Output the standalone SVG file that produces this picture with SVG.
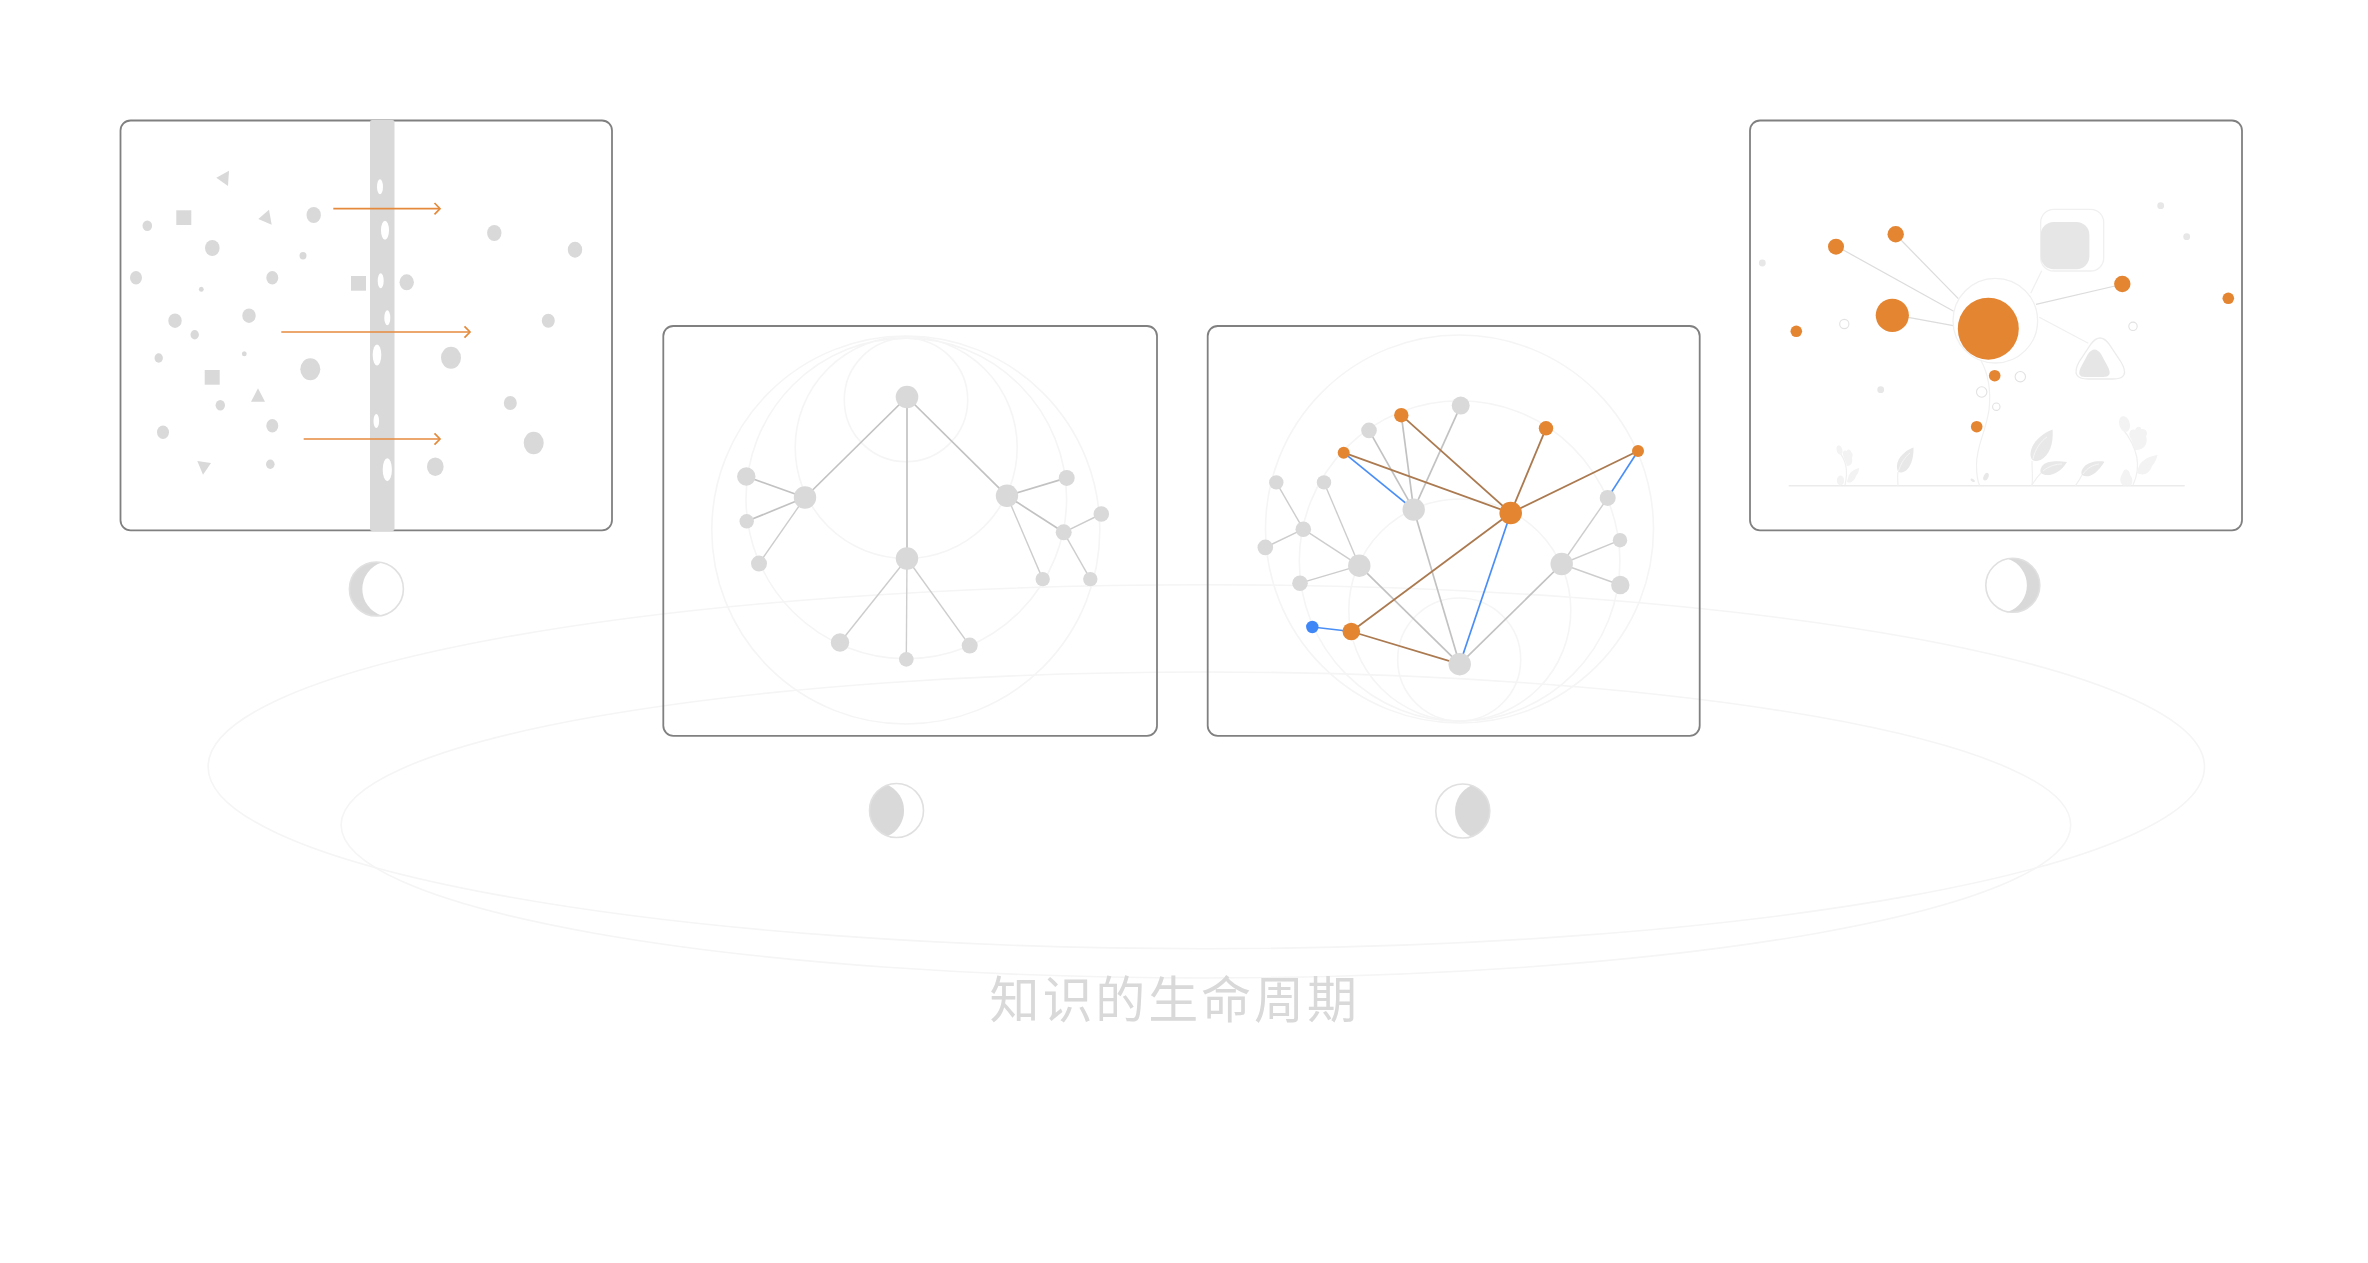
<svg xmlns="http://www.w3.org/2000/svg" width="2368" height="1263" viewBox="0 0 2368 1263">
  <style>
    .panel { fill: none; stroke: #808080; stroke-width: 1.8; }
    .guide { fill: none; stroke: #f5f5f5; stroke-width: 1.6; }
    .blob { fill: #d9d9d9; }
    .gap { fill: #ffffff; }
    .flow { fill: none; stroke: #e58a3c; stroke-width: 1.7; marker-end: url(#chevron); }
    .n { fill: #d9d9d9; }
    .o { fill: #e48532; }
    .b { fill: #3f86f7; }
    .e { stroke: #c2c2c2; stroke-width: 1.7; fill: none; }
    .e2 { stroke: #cdcdcd; stroke-width: 1.4; fill: none; }
    .eb { stroke: #ab7a50; stroke-width: 1.8; fill: none; }
    .el { stroke: #4a8ef5; stroke-width: 1.7; fill: none; }
    .ef { stroke: #dcdcdc; stroke-width: 1.2; fill: none; }
    .ep { stroke: #f0f0f0; stroke-width: 1.2; fill: none; }
    .ring { fill: none; stroke: #e0e0e0; stroke-width: 1.6; }
    .dot { fill: #e7e7e7; }
    .hollow { fill: #ffffff; stroke: #e2e2e2; stroke-width: 1.1; }
    .leaf { fill: #e8e8e8; }
    .pale { fill: #f3f3f3; }
    .vein { fill: none; stroke: #f6f6f6; stroke-width: 0.9; }
    .stalk { fill: none; stroke: #f0f0f0; stroke-width: 1.2; }
    .title { font-family: "Noto Sans CJK SC", "Noto Sans", sans-serif; font-size: 50px; letter-spacing: 2.9px; fill: #d9d9d9; }
  </style>
  <defs>
    <marker id="chevron" markerUnits="userSpaceOnUse" markerWidth="10" markerHeight="16" refX="7" refY="7" orient="auto">
      <path d="M1.5 1.3 L7 7 L1.5 12.7" fill="none" stroke="#e58a3c" stroke-width="1.7"/>
    </marker>
  </defs>

  <rect width="2368" height="1263" fill="#ffffff"/>

  <g id="orbits">
    <ellipse class="guide" cx="1206.3" cy="766.7" rx="998.2" ry="182"/>
    <ellipse class="guide" cx="1205.9" cy="825" rx="864.8" ry="153"/>
  </g>

  <!-- Stage 1: scattered fragments passing through a filter band -->
  <g id="stage-scatter">
    <rect class="panel" x="120.5" y="120.5" width="491.5" height="409.8" rx="10"/>
    <rect class="blob" x="370" y="120" width="24.5" height="411" rx="2"/>
    <g class="gap">
      <ellipse cx="380" cy="186.7" rx="3" ry="7.5"/>
      <ellipse cx="385" cy="230.3" rx="4" ry="9.5"/>
      <ellipse cx="380.7" cy="280.7" rx="3" ry="7.5"/>
      <ellipse cx="387.3" cy="317.7" rx="3" ry="7.5"/>
      <ellipse cx="377" cy="355" rx="4.3" ry="10.5"/>
      <ellipse cx="376.3" cy="421" rx="2.8" ry="7"/>
      <ellipse cx="387.3" cy="469.7" rx="4.6" ry="11.5"/>
    </g>
    <g class="blob">
      <polygon points="216.3,177.7 229,170.7 228,186"/>
      <ellipse cx="147.3" cy="225.7" rx="4.8" ry="5.2"/>
      <rect x="176.3" y="210.3" width="15" height="14.7"/>
      <polygon points="258.3,219 269,209.7 271.7,224.7"/>
      <ellipse cx="313.7" cy="215" rx="7.2" ry="8"/>
      <ellipse cx="212.3" cy="248" rx="7.3" ry="8"/>
      <ellipse cx="303" cy="255.7" rx="3.5" ry="3.7"/>
      <ellipse cx="136" cy="277.7" rx="6" ry="6.7"/>
      <ellipse cx="272.3" cy="277.7" rx="6" ry="6.7"/>
      <ellipse cx="201.3" cy="289.3" rx="2.4" ry="2.5"/>
      <rect x="351" y="276" width="15" height="14.7"/>
      <ellipse cx="406.7" cy="282.3" rx="7.2" ry="8"/>
      <ellipse cx="494.3" cy="233" rx="7.2" ry="8"/>
      <ellipse cx="575" cy="249.7" rx="7.2" ry="8"/>
      <ellipse cx="175" cy="320.7" rx="6.7" ry="7.3"/>
      <ellipse cx="249" cy="315.7" rx="6.7" ry="7.3"/>
      <ellipse cx="194.7" cy="334.7" rx="4.2" ry="4.7"/>
      <ellipse cx="158.7" cy="358" rx="4.2" ry="4.7"/>
      <ellipse cx="244.3" cy="353.7" rx="2.4" ry="2.5"/>
      <ellipse cx="310.3" cy="369.3" rx="10" ry="11"/>
      <ellipse cx="451" cy="357.7" rx="10" ry="11"/>
      <ellipse cx="548.3" cy="320.7" rx="6.5" ry="7"/>
      <rect x="204.7" y="370" width="15" height="14.7"/>
      <polygon points="251,401.7 265,401.7 258,388.3"/>
      <ellipse cx="220.3" cy="405.3" rx="4.7" ry="5.3"/>
      <ellipse cx="510.3" cy="403" rx="6.5" ry="7"/>
      <ellipse cx="163" cy="432.3" rx="6" ry="6.7"/>
      <ellipse cx="272.3" cy="425.7" rx="6" ry="6.7"/>
      <ellipse cx="533.7" cy="443" rx="10" ry="11.3"/>
      <polygon points="197.3,461 211,463 203,474.7"/>
      <ellipse cx="270.3" cy="464.3" rx="4.3" ry="4.7"/>
      <ellipse cx="435.3" cy="466.7" rx="8.3" ry="9.3"/>
    </g>
    <line class="flow" x1="333.3" y1="208.7" x2="440" y2="208.7"/>
    <line class="flow" x1="281.3" y1="332" x2="470" y2="332"/>
    <line class="flow" x1="303.7" y1="439" x2="440" y2="439"/>
  </g>

  <!-- Frames and concentric guides of the graph stages -->
  <g id="stage-tree-frame">
    <rect class="panel" x="663.3" y="326" width="493.7" height="409.8" rx="10"/>
    <circle class="guide" cx="906" cy="400" r="61.7"/>
    <circle class="guide" cx="906.2" cy="447.5" r="111"/>
    <circle class="guide" cx="906.3" cy="498.4" r="160.3"/>
    <circle class="guide" cx="905.8" cy="530" r="194"/>
  </g>
  <g id="stage-network-frame">
    <rect class="panel" x="1207.7" y="326" width="492" height="409.8" rx="10"/>
    <circle class="guide" cx="1459.2" cy="659.5" r="61.5"/>
    <circle class="guide" cx="1459.8" cy="610" r="111"/>
    <circle class="guide" cx="1459.6" cy="561" r="160.3"/>
    <circle class="guide" cx="1459.5" cy="529" r="194"/>
  </g>
  <g id="stage-growth-frame">
    <rect class="panel" x="1750" y="120.5" width="492" height="409.8" rx="10"/>
    <line x1="1788.7" y1="485.7" x2="2184.7" y2="485.7" stroke="#ebebeb" stroke-width="1.4"/>
  </g>

  <g id="connectors">
    <g id="tree-edges">
      <line class="e" x1="907" y1="397" x2="805" y2="497.5"/>
      <line class="e" x1="907" y1="397" x2="907" y2="558.5"/>
      <line class="e" x1="907" y1="397" x2="1007" y2="495.8"/>
      <line class="e" x1="805" y1="497.5" x2="746.3" y2="476.5"/>
      <line class="e" x1="805" y1="497.5" x2="746.7" y2="521.3"/>
      <line class="e2" x1="805" y1="497.5" x2="759" y2="563.6"/>
      <line class="e" x1="1007" y1="495.8" x2="1066.7" y2="477.9"/>
      <line class="e" x1="1007" y1="495.8" x2="1063.7" y2="532.3"/>
      <line class="e2" x1="1007" y1="495.8" x2="1042.7" y2="579.1"/>
      <line class="e2" x1="1063.7" y1="532.3" x2="1101.3" y2="514"/>
      <line class="e2" x1="1063.7" y1="532.3" x2="1090.3" y2="579.1"/>
      <line class="e2" x1="907" y1="558.5" x2="840" y2="642.5"/>
      <line class="e2" x1="907" y1="558.5" x2="906.3" y2="659.4"/>
      <line class="e2" x1="907" y1="558.5" x2="969.7" y2="645.6"/>
    </g>
    <g id="network-edges">
      <line class="e" x1="1369" y1="430.4" x2="1413.7" y2="509.6"/>
      <line class="e" x1="1401.3" y1="415.2" x2="1413.7" y2="509.6"/>
      <line class="e" x1="1460.7" y1="405.6" x2="1413.7" y2="509.6"/>
      <line class="e" x1="1413.7" y1="509.6" x2="1459.7" y2="664.2"/>
      <line class="e" x1="1359.3" y1="565.7" x2="1459.7" y2="664.2"/>
      <line class="e" x1="1561.7" y1="564" x2="1459.7" y2="664.2"/>
      <line class="e2" x1="1359.3" y1="565.7" x2="1324" y2="482.4"/>
      <line class="e2" x1="1359.3" y1="565.7" x2="1303.3" y2="529.2"/>
      <line class="e2" x1="1359.3" y1="565.7" x2="1300" y2="583.2"/>
      <line class="e2" x1="1303.3" y1="529.2" x2="1276.3" y2="482.4"/>
      <line class="e2" x1="1303.3" y1="529.2" x2="1265.3" y2="547.4"/>
      <line class="e2" x1="1561.7" y1="564" x2="1607.7" y2="497.9"/>
      <line class="e2" x1="1561.7" y1="564" x2="1620" y2="540.2"/>
      <line class="e2" x1="1561.7" y1="564" x2="1620.3" y2="585"/>
      <line class="el" x1="1343.7" y1="452.7" x2="1413.7" y2="509.6"/>
      <line class="el" x1="1510.7" y1="513" x2="1459.7" y2="664.2"/>
      <line class="el" x1="1638" y1="451" x2="1607.7" y2="497.9"/>
      <line class="el" x1="1312.3" y1="627" x2="1351.3" y2="631.5"/>
      <line class="eb" x1="1510.7" y1="513" x2="1343.7" y2="452.7"/>
      <line class="eb" x1="1510.7" y1="513" x2="1401.3" y2="415.2"/>
      <line class="eb" x1="1510.7" y1="513" x2="1546" y2="428.3"/>
      <line class="eb" x1="1510.7" y1="513" x2="1638" y2="451"/>
      <line class="eb" x1="1510.7" y1="513" x2="1351.3" y2="631.5"/>
      <line class="eb" x1="1351.3" y1="631.5" x2="1459.7" y2="664.2"/>
    </g>
    <g id="growth-edges">
      <line class="ef" x1="1843.3" y1="250" x2="1953.7" y2="311.3"/>
      <line class="ef" x1="1901" y1="240" x2="1958.3" y2="298.7"/>
      <line class="ef" x1="1908.3" y1="317.3" x2="1953.3" y2="325.7"/>
      <line class="ef" x1="2036" y1="304.3" x2="2115" y2="286"/>
      <line class="ep" x1="2030.7" y1="293.3" x2="2041.7" y2="270.7"/>
      <line class="ep" x1="2039.3" y1="317.3" x2="2088.3" y2="343.3"/>
    </g>
  </g>

  <g id="tree-nodes">
    <g id="t-root"><circle class="n" cx="907" cy="397" r="11.3"/></g>
    <g id="t-left"><circle class="n" cx="805" cy="497.5" r="11.2"/></g>
    <g id="t-right"><circle class="n" cx="1007" cy="495.8" r="11.2"/></g>
    <g id="t-centre"><circle class="n" cx="907" cy="558.5" r="11.2"/></g>
    <g id="t-l1"><circle class="n" cx="746.3" cy="476.5" r="9.2"/></g>
    <g id="t-l2"><circle class="n" cx="746.7" cy="521.3" r="7.2"/></g>
    <g id="t-l3"><circle class="n" cx="759" cy="563.6" r="8"/></g>
    <g id="t-r1"><circle class="n" cx="1066.7" cy="477.9" r="8"/></g>
    <g id="t-r2"><circle class="n" cx="1063.7" cy="532.3" r="8"/></g>
    <g id="t-r3"><circle class="n" cx="1101.3" cy="514" r="7.8"/></g>
    <g id="t-r4"><circle class="n" cx="1042.7" cy="579.1" r="7.2"/></g>
    <g id="t-r5"><circle class="n" cx="1090.3" cy="579.1" r="7.2"/></g>
    <g id="t-c1"><circle class="n" cx="840" cy="642.5" r="9.2"/></g>
    <g id="t-c2"><circle class="n" cx="906.3" cy="659.4" r="7.3"/></g>
    <g id="t-c3"><circle class="n" cx="969.7" cy="645.6" r="8"/></g>
  </g>

  <g id="network-nodes">
    <g id="g-base"><circle class="n" cx="1459.7" cy="664.2" r="11.2"/></g>
    <g id="g-core"><circle class="o" cx="1510.7" cy="513" r="11.3"/></g>
    <g id="g-upper"><circle class="n" cx="1413.7" cy="509.6" r="11.2"/></g>
    <g id="g-left"><circle class="n" cx="1359.3" cy="565.7" r="11.2"/></g>
    <g id="g-right"><circle class="n" cx="1561.7" cy="564" r="11.2"/></g>
    <g id="g-low"><circle class="o" cx="1351.3" cy="631.5" r="8.8"/></g>
    <g id="g-blue"><circle class="b" cx="1312.3" cy="627" r="6.2"/></g>
    <g id="g-o1"><circle class="o" cx="1343.7" cy="452.7" r="6"/></g>
    <g id="g-o2"><circle class="o" cx="1401.3" cy="415.2" r="7.2"/></g>
    <g id="g-o3"><circle class="o" cx="1546" cy="428.3" r="7.2"/></g>
    <g id="g-o4"><circle class="o" cx="1638" cy="451" r="6"/></g>
    <g id="g-a"><circle class="n" cx="1369" cy="430.4" r="7.8"/></g>
    <g id="g-b"><circle class="n" cx="1460.7" cy="405.6" r="9"/></g>
    <g id="g-c"><circle class="n" cx="1607.7" cy="497.9" r="8"/></g>
    <g id="g-d"><circle class="n" cx="1620" cy="540.2" r="7.2"/></g>
    <g id="g-e"><circle class="n" cx="1620.3" cy="585" r="9.2"/></g>
    <g id="g-f"><circle class="n" cx="1276.3" cy="482.4" r="7.2"/></g>
    <g id="g-h"><circle class="n" cx="1324" cy="482.4" r="7.2"/></g>
    <g id="g-i"><circle class="n" cx="1303.3" cy="529.2" r="7.8"/></g>
    <g id="g-j"><circle class="n" cx="1265.3" cy="547.4" r="7.8"/></g>
    <g id="g-k"><circle class="n" cx="1300" cy="583.2" r="7.8"/></g>
  </g>

  <g id="growth-nodes">
    <g id="p-halo"><circle cx="1995.3" cy="320.7" r="42.3" fill="none" stroke="#f0f0f0" stroke-width="1.3"/></g>
    <g id="p-core"><ellipse class="o" cx="1988.3" cy="328.7" rx="30.5" ry="31"/></g>
    <g id="p-large"><circle class="o" cx="1892.3" cy="315.3" r="16.6"/></g>
    <g id="p-o1"><circle class="o" cx="1836" cy="246.7" r="8"/></g>
    <g id="p-o2"><circle class="o" cx="1895.7" cy="234.3" r="8.2"/></g>
    <g id="p-o3"><circle class="o" cx="2122.3" cy="284" r="8.2"/></g>
    <g id="p-o4"><circle class="o" cx="2228.3" cy="298.3" r="5.8"/></g>
    <g id="p-o5"><circle class="o" cx="1796.3" cy="331.3" r="5.8"/></g>
    <g id="p-square">
      <rect x="2040.7" y="209.3" width="63" height="61.7" rx="13" fill="none" stroke="#f0f0f0" stroke-width="1.3"/>
      <rect x="2040.7" y="222" width="48.7" height="47.3" rx="13" fill="#e6e6e6"/>
    </g>
    <g id="p-triangle">
      <path d="M2091 344 Q2100 332 2109 344 L2121 362 Q2131 379 2113 379 L2088 379 Q2070 379 2079 362 Z" fill="none" stroke="#ececec" stroke-width="1.3"/>
      <path d="M2088 354 Q2094.5 345 2101 354 L2108 367 Q2113 377 2103 377 L2085 377 Q2076 377 2081 367 Z" fill="#e6e6e6"/>
    </g>
    <g class="dot">
      <circle cx="2160.7" cy="205.7" r="3.4"/>
      <circle cx="2186.7" cy="236.7" r="3.4"/>
      <circle cx="1762.3" cy="263" r="3.4"/>
      <circle cx="1880.7" cy="389.7" r="3.4"/>
    </g>
    <!-- Stem and foliage along the ground line -->
    <path class="stalk" d="M1980.7 360 C1989 375 1991 392 1989 410 C1985 435 1976.5 445 1976.5 465 C1976.5 475 1977.5 481 1979.7 485.7"/>
    <g id="p-o6"><circle class="o" cx="1994.7" cy="375.7" r="5.8"/></g>
    <g id="p-o7"><circle class="o" cx="1976.7" cy="426.7" r="5.8"/></g>
    <circle class="hollow" cx="1844.3" cy="324" r="4.6"/>
    <circle class="hollow" cx="2133" cy="326.3" r="4.2"/>
    <circle class="hollow" cx="2020.3" cy="376.7" r="5.2"/>
    <circle class="hollow" cx="1981.7" cy="392" r="5.2"/>
    <circle class="hollow" cx="1996.3" cy="406.7" r="3.7"/>

    <path class="stalk" d="M1898 472 C1897 477 1898 482 1898 485.7"/>
    <path class="leaf" d="M1913.5 447.5 C1906 450 1896 458 1897 468 C1897.5 472 1899 472.5 1901 472.5 C1909 472 1914 460 1913.5 447.5 Z"/>
    <path class="vein" d="M1898.5 471 C1901 463 1905 457 1910 453"/>

    <path class="stalk" d="M2032 461 C2032 470 2033 478 2032 485.7"/>
    <path class="leaf" d="M2052.5 429.5 C2043 433 2030 443 2030.5 455 C2031 460 2033 461 2037 461 C2048 459 2054 445 2052.5 429.5 Z"/>
    <path class="vein" d="M2033 459 C2035 449 2041 441 2047 437"/>
    <path class="stalk" d="M2031.5 485.7 C2035 480 2038 476 2041 473"/>
    <path class="leaf" d="M2067 462 C2060 461 2048 460 2043 465 C2040 468 2040 472 2041 473 C2047 478 2060 474 2067 462 Z"/>
    <path class="vein" d="M2043 471 C2049 466 2056 464 2062 464"/>
    <path class="stalk" d="M2075.5 485.7 C2078 482 2080 479 2082 475"/>
    <path class="leaf" d="M2104.5 461.7 C2097 460.5 2088 462 2084 467 C2081 470 2081 474 2082 475 C2088 479 2097 474 2104.5 461.7 Z"/>
    <path class="vein" d="M2083 474 C2087 468 2093 465 2099 464"/>

    <ellipse class="leaf" cx="1986" cy="476.7" rx="2.4" ry="4" transform="rotate(25 1986 476.7)"/>
    <ellipse class="leaf" cx="1972.7" cy="480.3" rx="2.4" ry="1.3" transform="rotate(30 1972.7 480.3)"/>

    <!-- Larger pale plant on the right -->
    <path class="stalk" d="M2133 485 C2140 470 2140 450 2122 428"/>
    <ellipse class="pale" cx="2124.5" cy="424" rx="5.3" ry="8" transform="rotate(-15 2124.5 424)"/>
    <path class="pale" d="M2131 439 C2127 433 2131 428 2135 430 C2137 425 2142 427 2141 429 C2147 428 2148 434 2146 436 C2148 442 2146 450 2135 450 C2133 447 2133 442 2131 439 Z"/>
    <path class="pale" d="M2157.5 455 C2150 456 2144 459 2140 464 C2138 468 2137 472 2137 473 C2145 477 2150 472 2152 466 C2155 463 2157 458 2157.5 455 Z"/>
    <path class="pale" d="M2121 483 C2119 478 2122 475 2123 472 C2125 467 2130 470 2130 475 C2133 478 2133 482 2131 485.5 L2123 485.5 Z"/>

    <!-- Smaller pale plant on the left -->
    <path class="stalk" d="M1845 485 C1848 472 1847 460 1838 451"/>
    <ellipse class="pale" cx="1839.5" cy="450" rx="2.8" ry="4.6" transform="rotate(-15 1839.5 450)"/>
    <path class="pale" d="M1843 455 C1842 450 1846 450 1847 451 C1848 448 1851 450 1851 452 C1853 453 1853 456 1852 458 C1853 463 1851 466 1847 466 C1846 462 1844 459 1843 455 Z"/>
    <path class="pale" d="M1859 468 C1855 469 1851 471 1849 475 C1848 478 1847 481 1847 482 C1851 484 1855 480 1856 476 C1858 474 1859 471 1859 468 Z"/>
    <ellipse class="pale" cx="1840.5" cy="480.5" rx="3.6" ry="5"/>
  </g>

  <!-- Phase markers under each stage -->
  <g id="moon-1">
    <path class="n" d="M381.5 562.5 A27 27 0 1 0 381.5 615.5 A27.9 27.9 0 0 1 381.5 562.5 Z"/>
    <circle class="ring" cx="376.4" cy="589" r="27"/>
  </g>
  <g id="moon-2">
    <path class="n" d="M887.8 784.9 A27 27 0 0 0 887.8 836.1 A28.3 28.3 0 0 0 887.8 784.9 Z"/>
    <circle class="ring" cx="896.5" cy="810.5" r="27"/>
  </g>
  <g id="moon-3">
    <path class="n" d="M1471.3 785.4 A27 27 0 0 1 1471.3 836.6 A28.3 28.3 0 0 1 1471.3 785.4 Z"/>
    <circle class="ring" cx="1462.8" cy="811" r="27"/>
  </g>
  <g id="moon-4">
    <path class="n" d="M2007.7 558.8 A27 27 0 1 1 2007.7 611.8 A27.9 27.9 0 0 0 2007.7 558.8 Z"/>
    <circle class="ring" cx="2012.8" cy="585.3" r="27"/>
  </g>

  <text class="title" x="989.5" y="1018">知识的生命周期</text>
</svg>
